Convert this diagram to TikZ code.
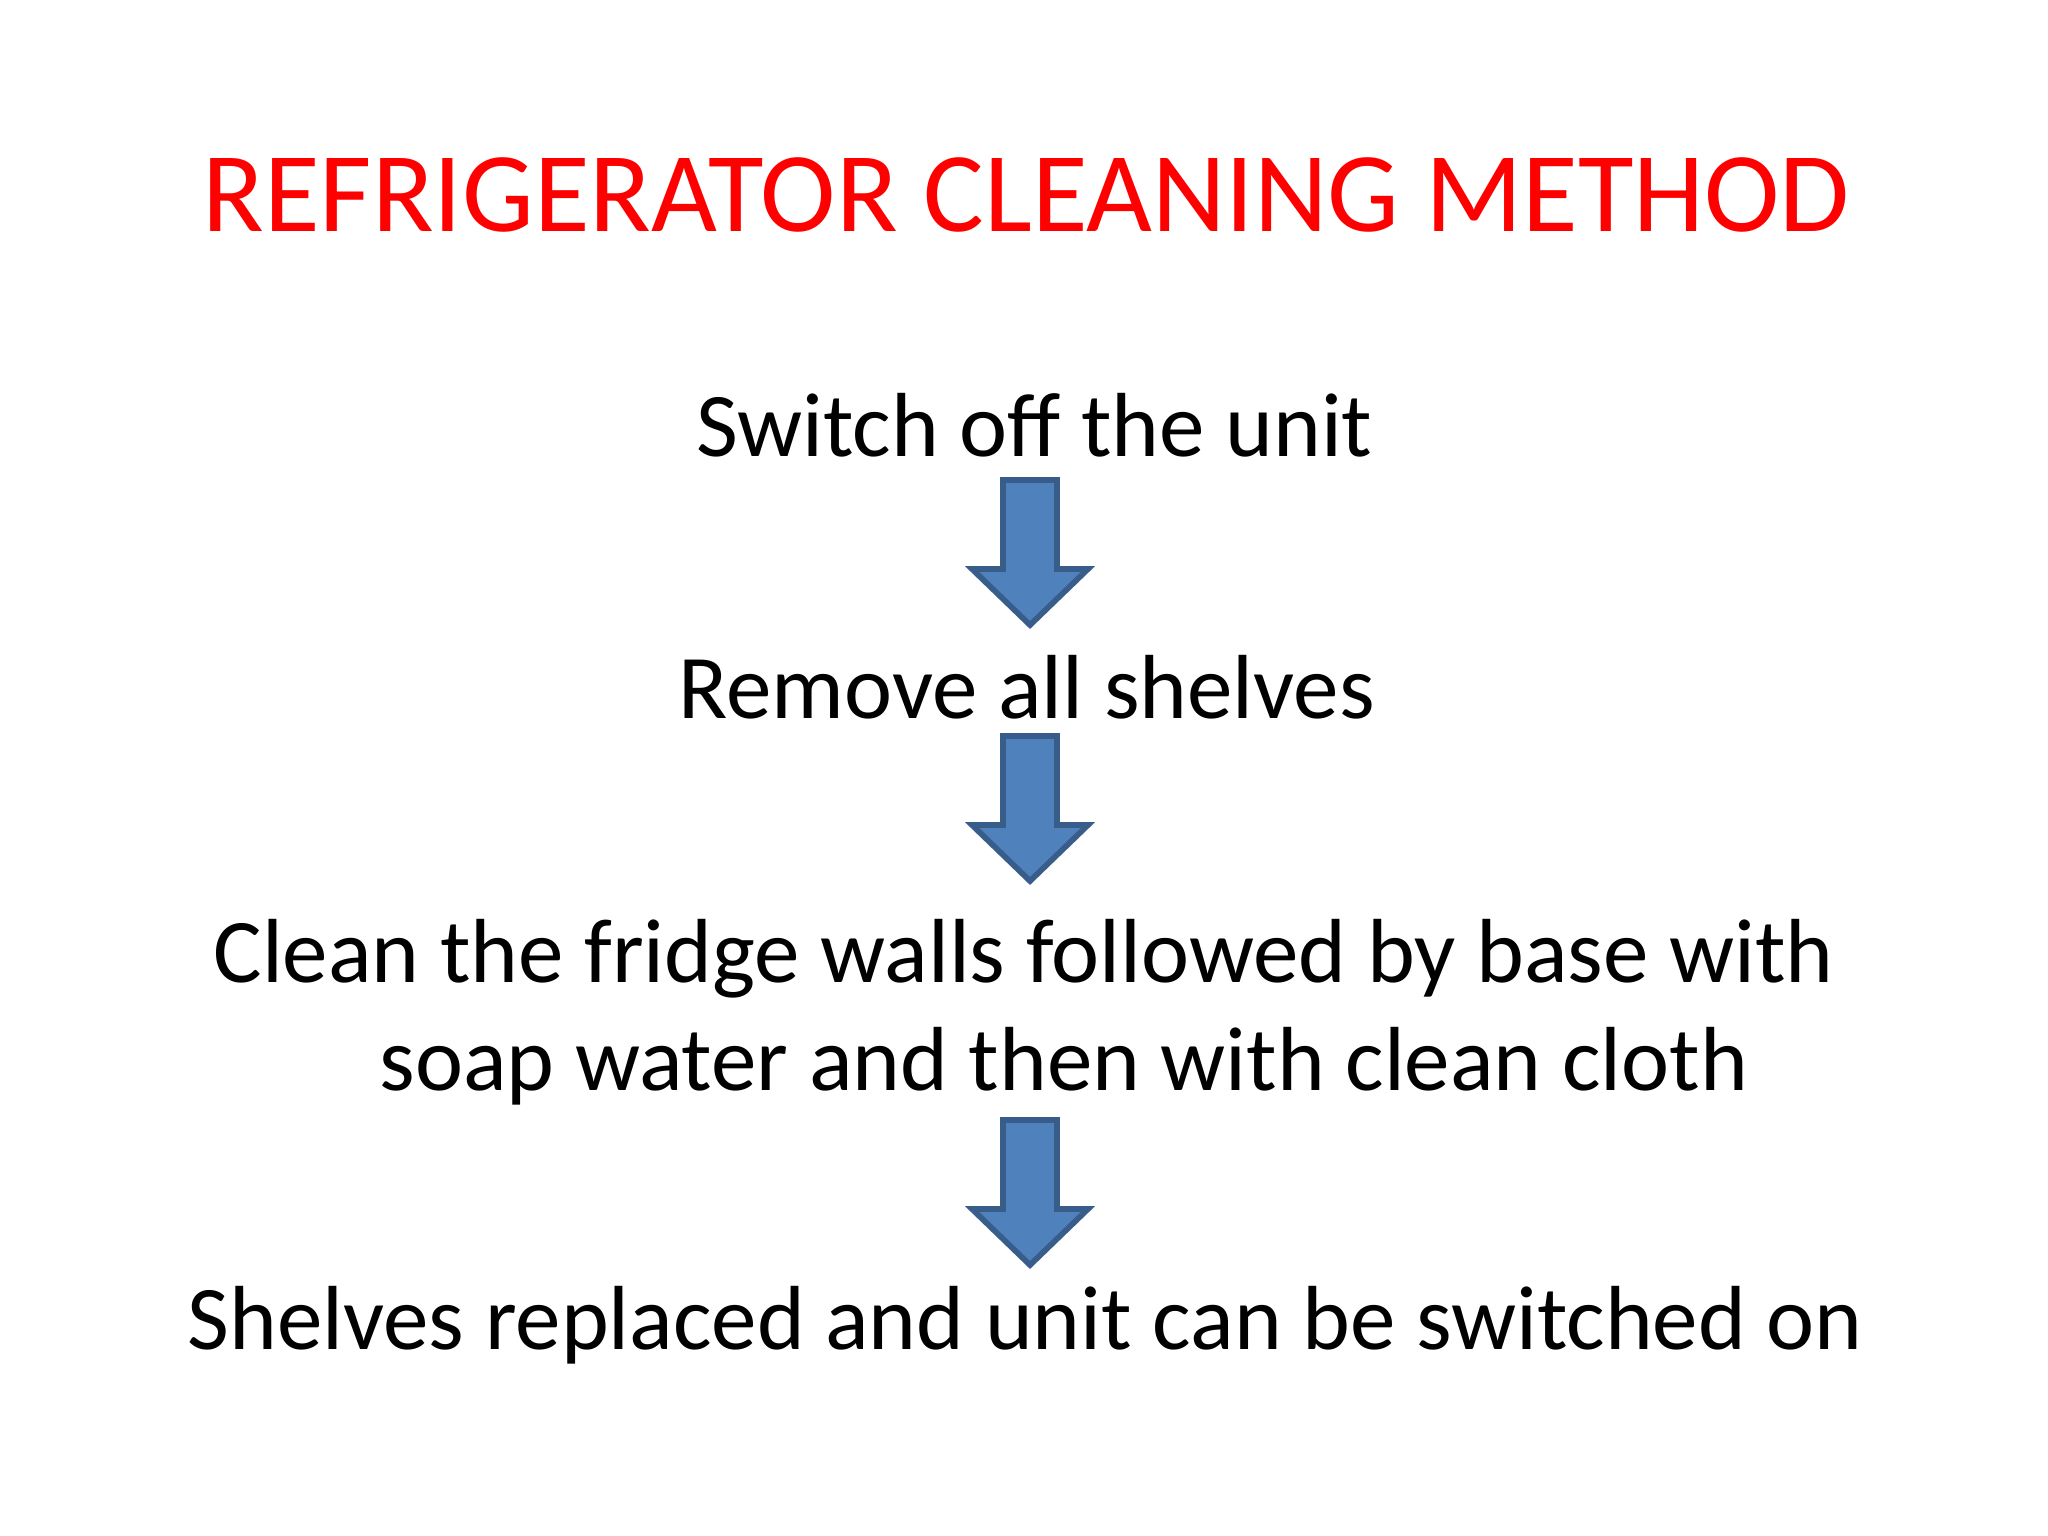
\documentclass[tikz,border=0pt]{standalone}
\usepackage{fontspec}
\setmainfont{Carlito}
\definecolor{arrowfill}{HTML}{4F81BD}
\definecolor{arrowline}{HTML}{385D8A}
\tikzset{
  titletext/.style={anchor=base west, inner sep=0pt, text=red, font=\fontsize{40}{48}\selectfont},
  bodytext/.style={anchor=base west, inner sep=0pt, text=black, font=\fontsize{32}{38.4}\selectfont},
  blockarrow/.style={fill=arrowfill, draw=arrowline, line width=2pt, line join=miter}
}
\begin{document}
\begin{tikzpicture}[x=0.3515625pt,y=-0.3515625pt]
\useasboundingbox (0,0) rectangle (2048,1536);
\fill[white] (0,0) rectangle (2048,1536);
\node[titletext] (title) at (202,232) {REFRIGERATOR CLEANING METHOD};
\node[bodytext] (s1) at (696,457) {Switch off the unit};
\node[bodytext] (s2) at (678,718) {Remove all shelves};
\node[bodytext] (s3a) at (213,982) {Clean the fridge walls followed by base with};
\node[bodytext] (s3b) at (379,1090) {soap water and then with clean cloth};
\node[bodytext] (s4) at (187,1349) {Shelves replaced and unit can be switched on};
\foreach \t/\b/\p in {480/569/625, 736/825/881, 1120/1209/1265}{
  \draw[blockarrow] (1003,\t) -- (1057,\t) -- (1057,\b) -- (1088,\b) -- (1030,\p) -- (972,\b) -- (1003,\b) -- cycle;
}
\end{tikzpicture}
\end{document}
